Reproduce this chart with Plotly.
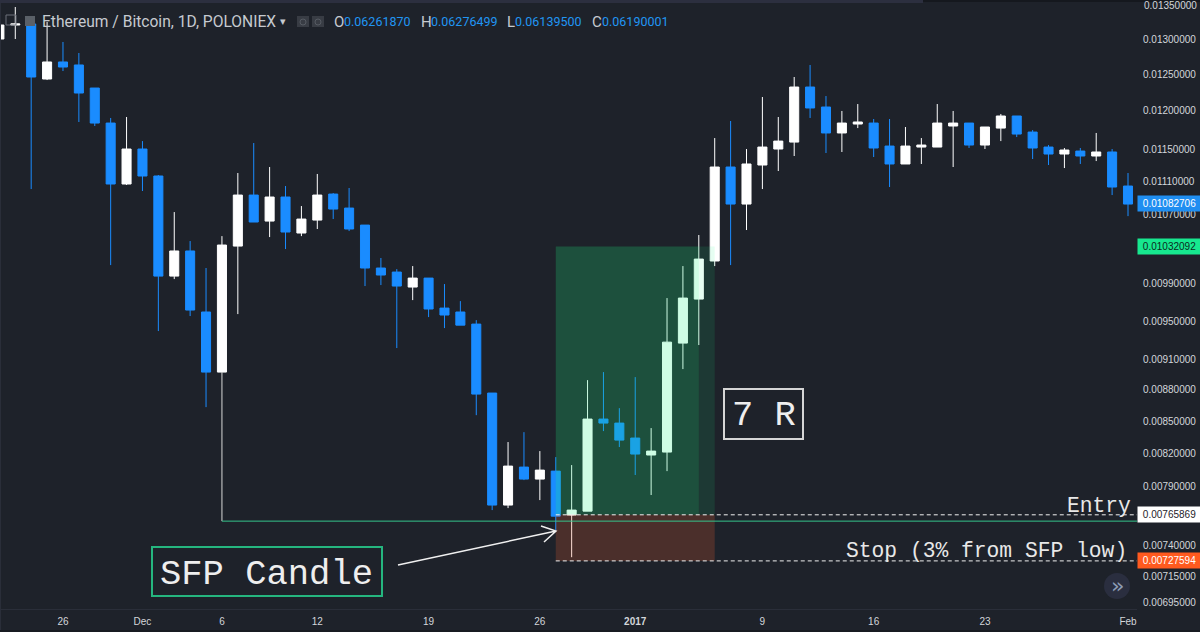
import math
import pandas as pd
import plotly.graph_objects as go

# daily candles, Nov 22 2016 to Feb 1 2017
dates = pd.date_range("2016-11-22", "2017-02-01", freq="D")
opens = [.013000,.013204,.013219,.012434,.012672,.012630,.012310,.011840,.011064,.011503,.011163,.009987,.010270,.009596,.008976,.010326,.010929,.010617,.010905,.010477,.010629,.010941,.010772,.010570,.010077,.010032,.009866,.009965,.009638,.009596,.009468,.008769,.007742,.008076,.007969,.008040,.007656,.007690,.008519,.008481,.008341,.008185,.008212,.009270,.009735,.010156,.011275,.010820,.011300,.011503,.011592,.012324,.012053,.011710,.011827,.011840,.011541,.011313,.011528,.011528,.011801,.011840,.011554,.011774,.011933,.011722,.011528,.011439,.011477,.011414,.011465,.011039]
highs = [.013204,.013471,.013219,.013249,.012957,.012799,.012310,.011907,.011920,.011605,.011175,.010724,.010384,.010077,.010441,.011200,.011580,.011275,.011039,.010796,.011188,.010953,.011015,.010570,.010190,.010065,.010099,.009965,.009899,.009713,.009510,.008769,.008304,.008396,.008221,.008166,.008094,.008896,.008976,.008623,.008926,.008434,.009746,.010099,.010454,.011644,.011867,.011503,.012188,.011920,.012462,.012630,.012201,.012000,.012093,.011893,.011893,.011788,.011644,.012093,.012000,.011840,.011788,.011960,.011933,.011748,.011554,.011516,.011516,.011710,.011503,.011200]
lows = [.013000,.013000,.011002,.012420,.012545,.011854,.011801,.010110,.011052,.010978,.009395,.009954,.009553,.008633,.008976,.009574,.010606,.010430,.010292,.010441,.010524,.010641,.010500,.009877,.009888,.009219,.009724,.009542,.009426,.009457,.008556,.007699,.007716,.007960,.007785,.007529,.007306,.007690,.008406,.008258,.008005,.007829,.008040,.009006,.009250,.010099,.010110,.010512,.011002,.011225,.011414,.011907,.011452,.011465,.011774,.011401,.011027,.011313,.011313,.011528,.011275,.011516,.011503,.011605,.011657,.011376,.011300,.011262,.011313,.011350,.010929,.010676]
closes = [.013204,.013219,.012462,.012672,.012601,.012242,.011840,.011064,.011503,.011163,.009987,.010270,.009617,.008976,.010338,.010929,.010606,.010905,.010489,.010641,.010929,.010760,.010524,.010077,.009999,.009877,.009965,.009628,.009564,.009457,.008759,.007742,.008085,.007969,.008049,.007647,.007699,.008519,.008481,.008322,.008194,.008221,.009280,.009746,.010178,.011275,.010820,.011313,.011528,.011605,.012324,.012040,.011710,.011840,.011854,.011516,.011313,.011541,.011554,.011840,.011840,.011554,.011788,.011933,.011696,.011516,.011439,.011490,.011414,.011465,.011027,.010820]

price_ticks = [.013,.0125,.012,.0115,.0111,.0107,.0099,.0095,.0091,.0088,.0085,.0082,.0079,.0074,.00715,.00695]
top_tick = .0135
date_ticks = ["2016-11-26","2016-12-01","2016-12-06","2016-12-12","2016-12-19","2016-12-26","2017-01-01","2017-01-09","2017-01-16","2017-01-23","2017-02-01"]
date_labels = ["26","Dec","6","12","19","26","<b>2017</b>","9","16","23","Feb"]

last_price = 0.01082706
target = 0.01032092
entry = 0.00765869
stop = 0.00727594
sfp_line = 0.007605

pos_start = "2016-12-27"
pos_end = "2017-01-06"
green_end = "2017-01-05"
sfp_day = "2016-12-06"
x_left = "2016-11-22 00:55"
x_right = "2017-02-01 13:35"

BG = "#1e222a"
GREY = "#d3d6da"
BLUE = "#1a8cff"
W, H = 1200, 632
L, R, T, B = 0, 63, 3, 23
PW, PH = W-L-R, H-T-B


def px(x):
    return (x-L)/PW


def py(y):
    return 1-(y-T)/PH


fig = go.Figure()
fig.add_trace(go.Candlestick(
    x=dates, open=opens, high=highs, low=lows, close=closes,
    increasing=dict(line=dict(color="#ffffff", width=1), fillcolor="#ffffff"),
    decreasing=dict(line=dict(color=BLUE, width=1), fillcolor=BLUE),
    hoverinfo="skip", showlegend=False))

shapes = []
# long position boxes
shapes.append(dict(type="rect", xref="x", yref="y", x0=pos_start, x1=pos_end, y0=entry, y1=target,
                   fillcolor="rgba(30,243,133,0.11)", line_width=0))
shapes.append(dict(type="rect", xref="x", yref="y", x0=pos_start, x1=green_end, y0=entry, y1=target,
                   fillcolor="rgba(30,243,133,0.12)", line_width=0))
shapes.append(dict(type="rect", xref="x", yref="y", x0=pos_start, x1=pos_end, y0=stop, y1=entry,
                   fillcolor="rgba(255,99,52,0.2)", line_width=0))
# lines
shapes.append(dict(type="line", xref="x", yref="y", x0=sfp_day, x1=sfp_day, y0=lows[14], y1=sfp_line,
                   line=dict(color="#d8d8d8", width=1)))
shapes.append(dict(type="line", xref="x", yref="y", x0=sfp_day, x1=x_right, y0=sfp_line, y1=sfp_line,
                   line=dict(color="#35c48b", width=1)))
for v in [entry, stop]:
    shapes.append(dict(type="line", xref="x", yref="y", x0=pos_start, x1=x_right, y0=v, y1=v,
                       line=dict(color="#f0f0f0", width=1, dash="4px,3px")))
# arrow
arrow = "M%f,%f L%f,%f M%f,%f L%f,%f L%f,%f" % (px(398), py(565), px(556), py(531), px(541), py(526),
                                                 px(556), py(531), px(544), py(542))
shapes.append(dict(type="path", xref="paper", yref="paper", path=arrow, line=dict(color="#f0f0f0", width=1.5)))
# text boxes
shapes.append(dict(type="rect", xref="paper", yref="paper", x0=px(152), x1=px(382), y0=py(547), y1=py(596),
                   line=dict(color="#25b67f", width=2)))
shapes.append(dict(type="rect", xref="paper", yref="paper", x0=px(724), x1=px(803), y0=py(389), y1=py(439),
                   line=dict(color="#d5d5d5", width=2)))
# page edges
shapes.append(dict(type="rect", xref="paper", yref="paper", x0=px(0), x1=px(923), y0=py(0), y1=py(3),
                   fillcolor="#2c2f3f", line_width=0))
shapes.append(dict(type="rect", xref="paper", yref="paper", x0=px(923), x1=px(1200), y0=py(0), y1=py(2),
                   fillcolor="#15181e", line_width=0))
shapes.append(dict(type="rect", xref="paper", yref="paper", x0=px(0), x1=px(1), y0=py(3), y1=py(632),
                   fillcolor="#2a2e39", line_width=0))
shapes.append(dict(type="rect", xref="paper", yref="paper", x0=px(0), x1=px(1200), y0=py(630), y1=py(632),
                   fillcolor="#181b21", line_width=0))
# header icons
shapes.append(dict(type="rect", xref="paper", yref="paper", x0=px(6), x1=px(16), y0=py(15), y1=py(25),
                   line=dict(color="#6a6f78", width=1)))
shapes.append(dict(type="rect", xref="paper", yref="paper", x0=px(25), x1=px(35), y0=py(16), y1=py(26),
                   fillcolor="#5a6068", line_width=0))
for x0 in [297, 312]:
    shapes.append(dict(type="rect", xref="paper", yref="paper", x0=px(x0), x1=px(x0+12), y0=py(16), y1=py(27),
                       fillcolor="#383c44", line_width=0))
    shapes.append(dict(type="circle", xref="paper", yref="paper", x0=px(x0+3), x1=px(x0+9), y0=py(19), y1=py(25),
                       line=dict(color="#565b63", width=1)))
# scroll button
shapes.append(dict(type="circle", xref="paper", yref="paper", x0=px(1104), x1=px(1130), y0=py(573), y1=py(599),
                   fillcolor="#2a2e3f", line_width=0))

annotations = []


def add_text(x, y, text, size, color, family="Liberation Mono", anchor="left"):
    annotations.append(dict(xref="paper", yref="paper", x=px(x), y=py(y), text=text, showarrow=False,
                            xanchor=anchor, yanchor="middle", font=dict(family=family, size=size, color=color)))


add_text(157.5, 574, "SFP Candle", 35.5, "#eeeeee")
add_text(730, 415, "7 R", 35.5, "#eeeeee")
add_text(1133, 506, "Entry", 21.3, "#e8e8e8", anchor="right")
add_text(1129, 551, "Stop (3% from SFP low)", 21.3, "#e8e8e8", anchor="right")
add_text(40, 22, "Ethereum / Bitcoin, 1D, POLONIEX", 15.6, "#c6cad0", "Roboto")
add_text(283, 21, "▾", 11, "#c6cad0", "DejaVu Sans", "center")
for x, name, xv, value in [(332, "O", 342, "0.06261870"), (419, "H", 429, "0.06276499"),
                           (505, "L", 513, "0.06139500"), (590, "C", 600, "0.06190001")]:
    add_text(x, 22, name, 15, "#c6cad0", "Roboto")
    add_text(xv, 22, value, 12.5, "#2196f3", "Roboto")
add_text(1117, 585, "»", 22, "#8d9cb5", "DejaVu Sans", "center")

# top price label, cut by the page edge
annotations.append(dict(xref="paper", yref="y", x=1, xshift=6, y=math.log10(top_tick), text="%.8f" % top_tick,
                        showarrow=False, xanchor="left", yanchor="middle", borderpad=0,
                        font=dict(family="Liberation Sans", size=10, color=GREY)))
# price flags on the axis
for v, bg, fg in [(last_price, "#1f8ef1", "#ffffff"), (target, "#17e88f", "#0c2a1e"),
                  (entry, "#ffffff", "#1e222a"), (stop, "#ff5a1f", "#ffffff")]:
    annotations.append(dict(xref="paper", yref="y", x=1, y=math.log10(v), text="%.8f" % v, showarrow=False,
                            xanchor="left", yanchor="middle", width=63, height=15, align="center", borderpad=0,
                            bgcolor=bg, font=dict(family="Liberation Sans", size=10, color=fg)))

fig.update_layout(
    width=W, height=H,
    margin=dict(l=L, r=R, t=T, b=B, autoexpand=False),
    paper_bgcolor=BG, plot_bgcolor=BG,
    boxgap=0.43, boxgroupgap=0,
    shapes=shapes, annotations=annotations,
    xaxis=dict(type="date", range=[x_left, x_right], rangeslider=dict(visible=False),
               tickvals=date_ticks, ticktext=date_labels, showgrid=False, zeroline=False,
               ticks="outside", ticklen=3, tickcolor=BG, showline=True, linecolor="#2a2e39",
               tickfont=dict(family="Liberation Sans", size=10, color=GREY)),
    yaxis=dict(type="log", side="right", range=[math.log10(0.006897), math.log10(0.013531)],
               tickvals=price_ticks, ticktext=["%.8f" % v for v in price_ticks], showgrid=False, zeroline=False,
               ticks="outside", ticklen=3, tickcolor=BG, showline=False,
               tickfont=dict(family="Liberation Sans", size=10, color=GREY)),
)

fig.write_html("out.html", post_script="document.body.style.margin='0';", config=dict(displayModeBar=False))
